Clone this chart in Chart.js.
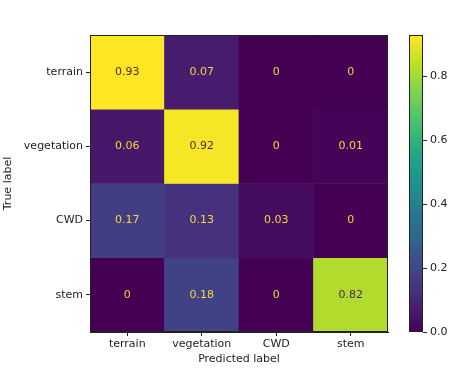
<!DOCTYPE html>
<html>
<head>
<meta charset="utf-8">
<script src="https://cdn.jsdelivr.net/npm/chart.js@4.4.0/dist/chart.umd.min.js"></script>
<style>
    body { margin: 0; background: #fff; }
    #wrap { position: relative; width: 474px; height: 387px; }
    #matrix { position: absolute; left: 0; top: 0; }
    #cbar { position: absolute; left: 400px; top: 0; }
</style>
</head>
<body>
<div id="wrap">
    <canvas id="matrix" width="400" height="387"></canvas>
    <canvas id="cbar" width="74" height="387"></canvas>
</div>
<script>
const predictedLabels = ['terrain', 'vegetation', 'CWD', 'stem'];
const trueLabels = ['terrain', 'vegetation', 'CWD', 'stem'];

// rows = true label, cols = predicted label
const terrainRow = [0.93, 0.07, 0, 0];
const vegetationRow = [0.06, 0.92, 0, 0.01];
const cwdRow = [0.17, 0.13, 0.03, 0];
const stemRow = [0, 0.18, 0, 0.82];
const rows = [terrainRow, vegetationRow, cwdRow, stemRow];

const colorbarTicks = [0.0, 0.2, 0.4, 0.6, 0.8];
const vmin = 0;
const vmax = 0.93;

const viridisStops = ['#440154', '#482475', '#414487', '#355f8d', '#2a788e', '#21918c',
    '#22a884', '#44bf70', '#7ad151', '#bddf26', '#fde725'];

function hexToRgb(h) {
    return [parseInt(h.slice(1, 3), 16), parseInt(h.slice(3, 5), 16), parseInt(h.slice(5, 7), 16)];
}

function viridis(t) {
    t = Math.max(0, Math.min(1, t));
    let pos = t * (viridisStops.length - 1);
    let i = Math.min(Math.floor(pos), viridisStops.length - 2);
    let f = pos - i;
    let a = hexToRgb(viridisStops[i]), b = hexToRgb(viridisStops[i + 1]);
    let c = a.map((v, k) => Math.round(v + (b[k] - v) * f));
    return 'rgb(' + c.join(',') + ')';
}

function cellColor(v) {
    return viridis((v - vmin) / (vmax - vmin));
}

const FONT = 'DejaVu Sans';
Chart.defaults.font.family = FONT;
Chart.defaults.color = '#222';

// frame around the plot area (matplotlib spines)
const frame = {
    id: 'frame',
    afterDraw(chart) {
        const a = chart.chartArea;
        const ctx = chart.ctx;
        ctx.save();
        ctx.strokeStyle = '#222';
        ctx.lineWidth = 1;
        ctx.strokeRect(Math.round(a.left) + 0.5, Math.round(a.top) + 0.5,
            Math.round(a.right - a.left) - 1, Math.round(a.bottom - a.top) - 1);
        ctx.restore();
    }
};

// value text in each cell
const cellText = {
    id: 'cellText',
    afterDatasetsDraw(chart) {
        const ctx = chart.ctx;
        ctx.save();
        ctx.font = '11px ' + FONT;
        ctx.textAlign = 'center';
        ctx.textBaseline = 'middle';
        const thresh = (vmax + vmin) / 2;
        chart.data.datasets.forEach((ds, i) => {
            const meta = chart.getDatasetMeta(i);
            meta.data.forEach((el, j) => {
                const v = rows[i][j];
                const p = el.getCenterPoint();
                ctx.fillStyle = v < thresh ? '#f2d83a' : '#4a2a50';
                ctx.fillText(String(v), p.x, p.y);
            });
        });
        ctx.restore();
    }
};

new Chart(document.getElementById('matrix'), {
    type: 'bar',
    data: {
        labels: predictedLabels,
        datasets: rows.map((row, i) => ({
            label: trueLabels[i],
            data: row.map(() => [i, i + 1]),
            backgroundColor: row.map(v => cellColor(v)),
            borderWidth: 0,
            barPercentage: 1,
            categoryPercentage: 1,
            stack: 'cm'
        }))
    },
    options: {
        responsive: false,
        animation: false,
        layout: { padding: { top: 35, right: 12, left: 0, bottom: 21 } },
        plugins: { legend: { display: false }, tooltip: { enabled: false } },
        scales: {
            x: {
                stacked: true,
                grid: { offset: false, drawOnChartArea: false, tickLength: 4, color: '#222' },
                border: { display: true, color: '#222' },
                ticks: { font: { size: 11 }, color: '#222', padding: 2, maxRotation: 0 },
                title: { display: true, text: 'Predicted label', font: { size: 11 }, color: '#222', padding: { top: 0, bottom: 0 } },
                afterFit(scale) { scale.height = 34; }
            },
            y: {
                type: 'linear',
                stacked: false,
                reverse: true,
                min: 0,
                max: 4,
                afterBuildTicks(scale) {
                    scale.ticks = trueLabels.map((l, i) => ({ value: i + 0.5 }));
                },
                grid: { drawOnChartArea: false, tickLength: 4, color: '#222' },
                border: { display: true, color: '#222' },
                ticks: {
                    font: { size: 11 },
                    color: '#222',
                    padding: 3,
                    callback: (v) => trueLabels[Math.floor(v)]
                },
                title: { display: true, text: 'True label', font: { size: 11 }, color: '#222', padding: { top: 2, bottom: 0 } },
                afterFit(scale) { scale.width = 90; }
            }
        }
    },
    plugins: [cellText, frame]
});

// colorbar
new Chart(document.getElementById('cbar'), {
    type: 'bar',
    data: {
        labels: [''],
        datasets: [{
            data: [[vmin, vmax]],
            borderWidth: 0,
            barPercentage: 1,
            categoryPercentage: 1,
            backgroundColor(c) {
                const a = c.chart.chartArea;
                if (!a) return '#888';
                const g = c.chart.ctx.createLinearGradient(0, a.bottom, 0, a.top);
                viridisStops.forEach((s, k) => g.addColorStop(k / (viridisStops.length - 1), s));
                return g;
            }
        }]
    },
    options: {
        responsive: false,
        animation: false,
        layout: { padding: { top: 35, left: 9, right: 0, bottom: 55 } },
        plugins: { legend: { display: false }, tooltip: { enabled: false } },
        scales: {
            x: { display: false },
            y: {
                position: 'right',
                min: vmin,
                max: vmax,
                afterBuildTicks(scale) {
                    scale.ticks = colorbarTicks.map(v => ({ value: v }));
                },
                grid: { drawOnChartArea: false, tickLength: 4, color: '#222' },
                border: { display: false },
                ticks: { font: { size: 11 }, color: '#222', padding: 3, callback: (v) => v.toFixed(1) },
                afterFit(scale) { scale.width = 51; }
            }
        }
    },
    plugins: [frame]
});
</script>
</body>
</html>
